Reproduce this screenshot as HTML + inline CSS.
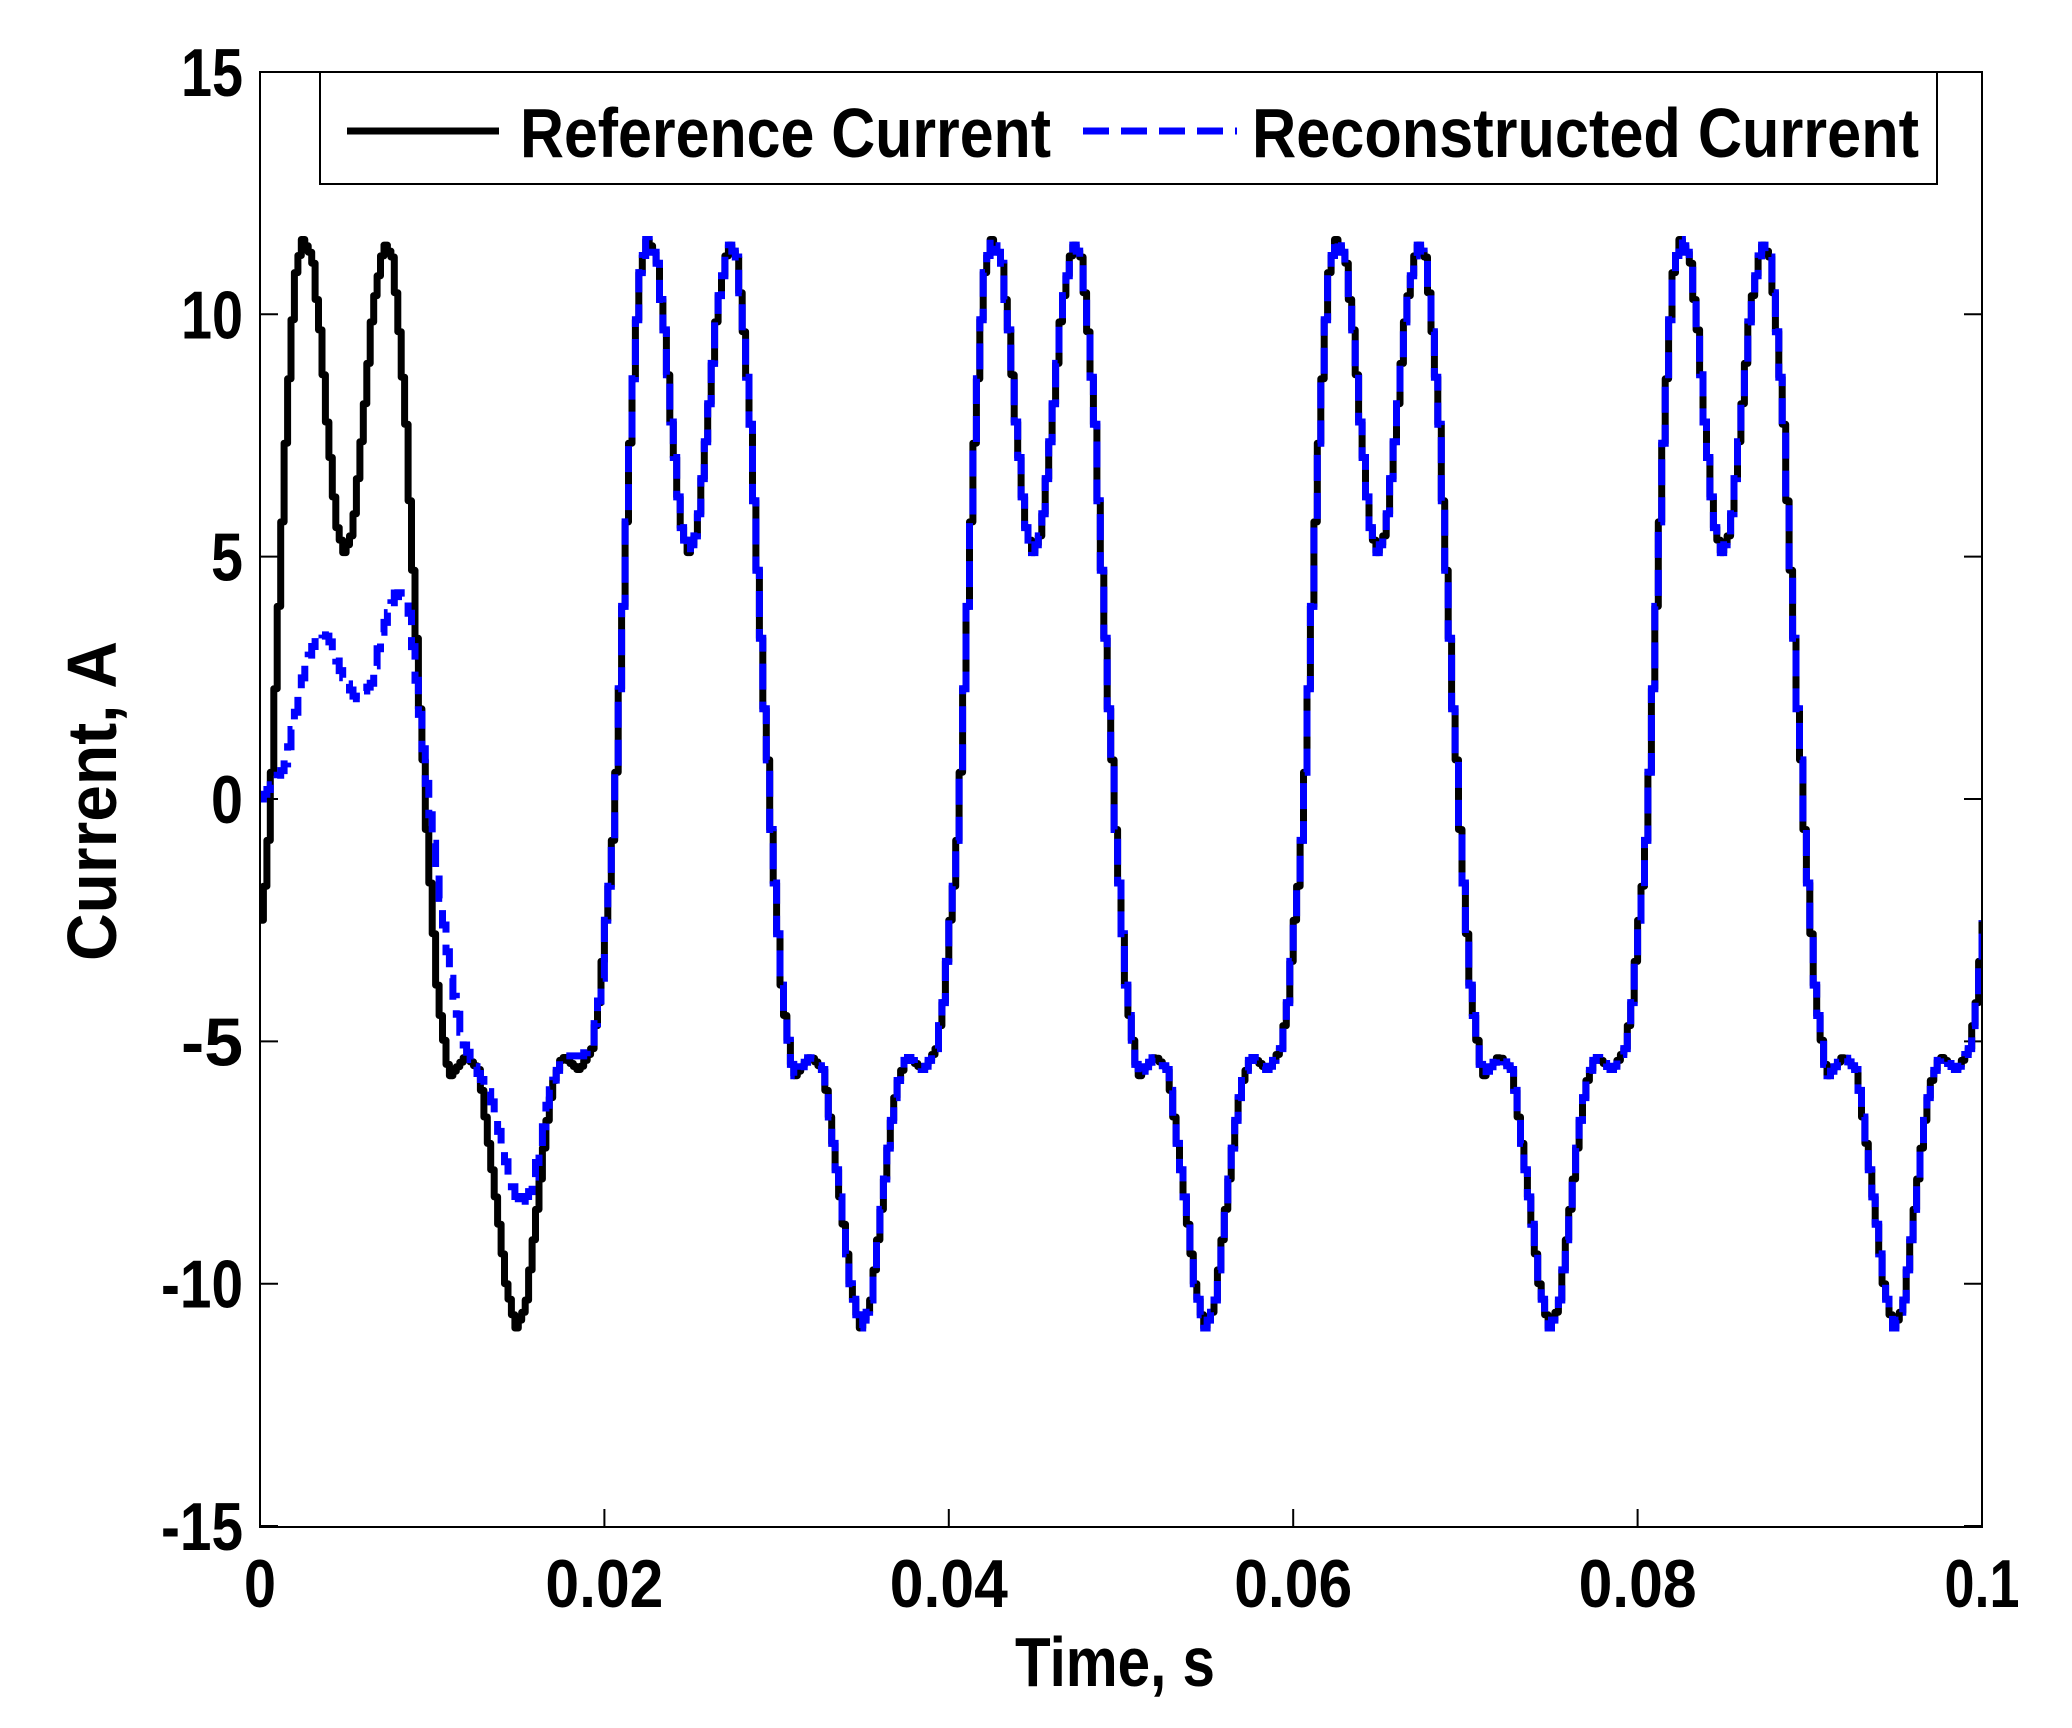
<!DOCTYPE html>
<html><head><meta charset="utf-8"><style>
html,body{margin:0;padding:0;background:#fff;}
svg{display:block;}
text{font-family:"Liberation Sans",Arial,sans-serif;font-weight:bold;fill:#000;}
</style></head><body>
<svg id="s" width="2072" height="1728" viewBox="0 0 2072 1728" xmlns="http://www.w3.org/2000/svg">
<defs><clipPath id="c"><rect x="260" y="72" width="1722" height="1455"/></clipPath></defs>
<rect x="0" y="0" width="2072" height="1728" fill="#fff"/>
<g id="ticks" stroke="#000" stroke-width="2"></g>
<g clip-path="url(#c)">
<path id="blk" d="" fill="none" stroke="#000" stroke-width="7" stroke-linejoin="round"/>
<path id="blu" d="" fill="none" stroke="#0000ff" stroke-width="7" stroke-dasharray="26 12"/>
</g>
<rect x="260" y="72" width="1722" height="1455" fill="none" stroke="#000" stroke-width="2"/>
<rect x="320" y="72" width="1617" height="112" fill="#fff" stroke="#000" stroke-width="2"/>
<line x1="347" y1="131" x2="499" y2="131" stroke="#000" stroke-width="7"/>
<text x="520" y="157" font-size="70" textLength="531" lengthAdjust="spacingAndGlyphs">Reference Current</text>
<line x1="1083" y1="131" x2="1237" y2="131" stroke="#0000ff" stroke-width="7" stroke-dasharray="26 12"/>
<text x="1252" y="157" font-size="70" textLength="667" lengthAdjust="spacingAndGlyphs">Reconstructed Current</text>
<g id="lbl"></g>
<text x="1115" y="1686" font-size="70" text-anchor="middle" textLength="200" lengthAdjust="spacingAndGlyphs">Time, s</text>
<text transform="translate(116,801) rotate(-90)" font-size="70" text-anchor="middle" textLength="320" lengthAdjust="spacingAndGlyphs">Current, A</text>
</svg>
<script>
var X0=260,XW=1722,Y0=799,K=48.47;
function px(t){return X0+t/100*XW;}
function py(v){return Y0-v*K;}
var P=[[0,-2.5],[0.17,-1.94],[0.46,-0.57],[0.65,0.95],[0.84,2.63],[1.04,4.31],[1.23,5.98],[1.42,7.5],[1.62,8.8],[1.81,9.95],[2.0,10.86],[2.39,11.55],[2.97,11.17],[3.17,10.4],[3.46,9.49],[3.75,7.96],[4.04,6.9],[4.33,5.69],[4.81,5.07],[5.3,5.52],[5.68,6.9],[6.07,8.43],[6.46,10.1],[7.13,11.47],[7.62,11.17],[8.0,9.64],[8.39,7.81],[8.68,5.52],[8.93,3.85],[9.17,2.02],[9.46,0.49],[9.65,-1.03],[9.94,-2.39],[10.13,-3.62],[10.42,-4.53],[10.91,-5.75],[11.88,-5.3],[12.65,-5.6],[13.04,-6.67],[13.43,-7.73],[13.81,-8.8],[14.2,-10.0],[14.78,-10.93],[15.36,-10.46],[15.75,-9.25],[16.14,-8.03],[16.52,-6.82],[16.91,-5.9],[17.49,-5.3],[18.46,-5.6],[19.2,-5.15],[19.6,-4.2],[20,-2.5]];
var B=[[0,0],[1.37,0.67],[1.95,1.7],[2.53,2.73],[3.31,3.42],[3.89,3.35],[4.66,2.59],[5.53,2.04],[6.4,2.39],[6.98,3.42],[7.86,4.31],[8.54,4.04],[8.92,2.73],[9.31,1.36],[9.69,0],[10.2,-1.5],[10.6,-2.6],[11,-3.7],[11.7,-5],[12.5,-5.6],[13.3,-6.1],[13.7,-6.7],[14.4,-7.8],[15,-8.4],[15.6,-8.1],[16.2,-7.2],[16.7,-6.1],[17.5,-5.3],[18.6,-5.3],[19.2,-5.1],[19.8,-3.7],[20,-2.5]];
function interp(T,t){for(var i=1;i<T.length;i++){if(t<=T[i][0]){var a=T[i-1],b=T[i];return a[1]+(b[1]-a[1])*(t-a[0])/(b[0]-a[0]);}}return T[T.length-1][1];}
function fb(t){var m=t%20;return interp(P,m);}
function fu(t){if(t<20)return interp(B,t);return fb(t);}
function stairs(f){var dt=0.2,d="",t=0,v=f(0);d="M"+px(0).toFixed(1)+" "+py(v).toFixed(1);
for(t=dt;t<=100.001;t+=dt){var x=px(t);d+=" H"+x.toFixed(1);v=f(t);d+=" V"+py(v).toFixed(1);}return d;}
document.getElementById("blk").setAttribute("d",stairs(fb));
document.getElementById("blu").setAttribute("d",stairs(fu));
var NS="http://www.w3.org/2000/svg";
var tk=document.getElementById("ticks"),lb=document.getElementById("lbl");
function ln(x1,y1,x2,y2){var l=document.createElementNS(NS,"line");l.setAttribute("x1",x1);l.setAttribute("y1",y1);l.setAttribute("x2",x2);l.setAttribute("y2",y2);tk.appendChild(l);}
function tx(x,y,s,anch,w){var e=document.createElementNS(NS,"text");e.setAttribute("x",x);e.setAttribute("y",y);e.setAttribute("font-size","68");e.setAttribute("text-anchor",anch);e.setAttribute("textLength",w);e.setAttribute("lengthAdjust","spacingAndGlyphs");e.textContent=s;lb.appendChild(e);}
var yt=[15,10,5,0,-5,-10,-15];
yt.forEach(function(v){var y=py(v);ln(260,y,278,y);ln(1982,y,1964,y);var s=String(v);tx(243,y+24,s,"end",s.length==1?32:(s.length==2?62:82));});
var xt=[0,0.02,0.04,0.06,0.08,0.1];
xt.forEach(function(v){var x=px(v*1000);ln(x,1527,x,1509);ln(x,72,x,90);var s=String(v);tx(x,1607,s,"middle",s.length==1?32:(s.length==3?75:118));});
</script>
</body></html>
